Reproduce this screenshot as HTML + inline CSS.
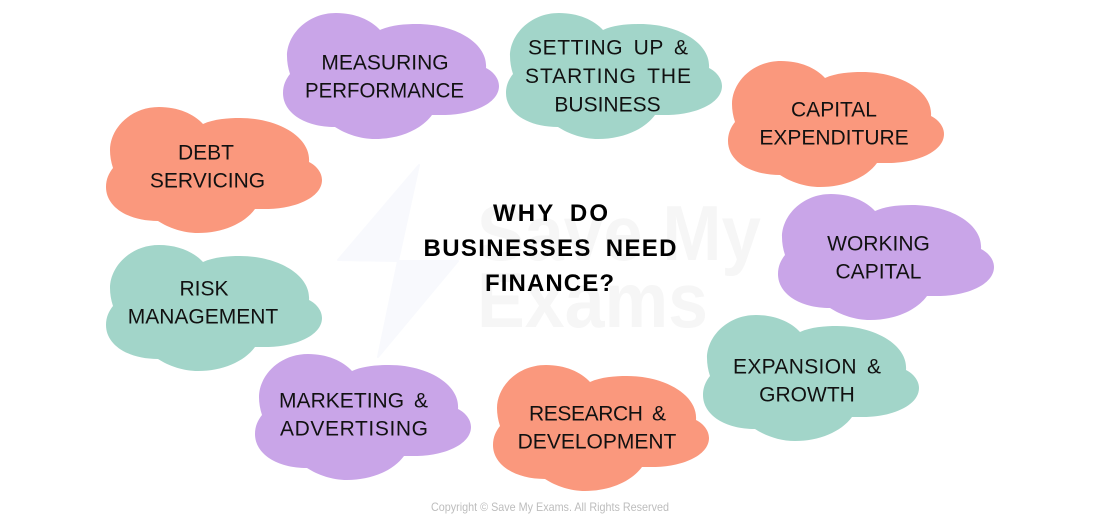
<!DOCTYPE html>
<html><head><meta charset="utf-8">
<style>
html,body{margin:0;padding:0;background:#fff;width:1100px;height:521px;overflow:hidden}
svg{display:block}
.t{font-family:"Liberation Sans",sans-serif;font-size:21px;fill:#111;text-anchor:middle;word-spacing:4px}
.c{font-family:"Liberation Sans",sans-serif;font-size:24px;font-weight:bold;fill:#000;text-anchor:middle;word-spacing:6px}
.w{font-family:"Liberation Sans",sans-serif;font-size:78px;font-weight:bold;fill:#f6f6f6}
</style></head><body>
<svg width="1100" height="521" viewBox="0 0 1100 521" xmlns="http://www.w3.org/2000/svg">
<defs>
<path id="cl" d="M7 61C5 55 4 49 4 43C4 22 24 0 53 0C72 0 88 7 97 17C108 12 122 11 134 11C172 11 205 30 203 55C211 59 216 66 216 73C216 91 188 102 160 102C156 102 152 102 149 102C138 117 116 126 92 126C77 126 63 121 52 114C22 114 0 100 0 80C0 72 3 66 7 61Z"/>
</defs>
<polygon points="419,165 338,260 398,261 378,357 458,261 398,261" fill="#f8f9fd" stroke="#f8f9fd" stroke-width="2" stroke-linejoin="round"/>
<text class="w" x="477" y="260" textLength="284" lengthAdjust="spacingAndGlyphs">Save My</text>
<text class="w" x="477" y="327" textLength="231" lengthAdjust="spacingAndGlyphs">Exams</text>
<use href="#cl" x="106" y="107" fill="#fa987d"/>
<use href="#cl" x="283" y="13" fill="#c9a5e8"/>
<use href="#cl" x="506" y="13" fill="#a2d5c9"/>
<use href="#cl" x="728" y="61" fill="#fa987d"/>
<use href="#cl" x="778" y="194" fill="#c9a5e8"/>
<use href="#cl" x="703" y="315" fill="#a2d5c9"/>
<use href="#cl" x="493" y="365" fill="#fa987d"/>
<use href="#cl" x="255" y="354" fill="#c9a5e8"/>
<use href="#cl" x="106" y="245" fill="#a2d5c9"/>
<text class="t" x="206" y="159.5">DEBT</text><text class="t" x="207.5" y="187.5">SERVICING</text>
<text class="t" x="385" y="69.5">MEASURING</text><text class="t" x="384.5" y="97.5" textLength="159" lengthAdjust="spacingAndGlyphs">PERFORMANCE</text>
<text class="t" x="608" y="54.5" textLength="160">SETTING UP &amp;</text><text class="t" x="608" y="83" textLength="166">STARTING THE</text><text class="t" x="607.5" y="111.5">BUSINESS</text>
<text class="t" x="834" y="116.5">CAPITAL</text><text class="t" x="834" y="144.5">EXPENDITURE</text>
<text class="t" x="878.5" y="250.5">WORKING</text><text class="t" x="878.5" y="278.5">CAPITAL</text>
<text class="t" x="807" y="373.5" textLength="148">EXPANSION &amp;</text><text class="t" x="807" y="401.5">GROWTH</text>
<text class="t" x="597.5" y="420.5" textLength="137">RESEARCH &amp;</text><text class="t" x="597" y="448.5">DEVELOPMENT</text>
<text class="t" x="353.5" y="407.5" textLength="149">MARKETING &amp;</text><text class="t" x="354" y="435.5" textLength="148">ADVERTISING</text>
<text class="t" x="204" y="295.5">RISK</text><text class="t" x="203" y="323.5">MANAGEMENT</text>
<text class="c" x="550.5" y="221" textLength="115">WHY DO</text>
<text class="c" x="550" y="256" textLength="253">BUSINESSES NEED</text>
<text class="c" x="549.5" y="291" textLength="129">FINANCE?</text>
<text x="431" y="511" textLength="238" lengthAdjust="spacingAndGlyphs" font-family="Liberation Sans, sans-serif" font-size="12" fill="#bdbdbd">Copyright © Save My Exams. All Rights Reserved</text>
</svg>
</body></html>
